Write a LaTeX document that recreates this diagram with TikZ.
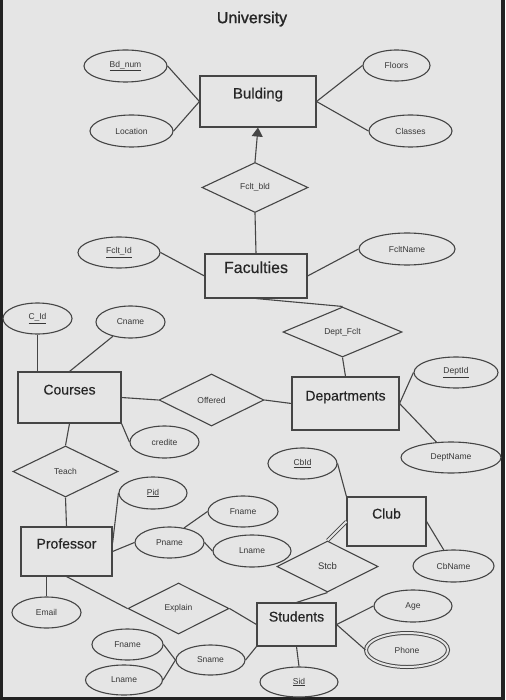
\documentclass[tikz,border=0pt]{standalone}
\usepackage{fontspec}
\setmainfont{Liberation Sans}
\newfontfamily\semifont[FakeBold=0.4]{Liberation Sans}
\newfontfamily\titlefont[FakeBold=1.4]{Liberation Sans}
\usetikzlibrary{shapes, arrows.meta, positioning}
\definecolor{bggray}{HTML}{E5E5E5}
\definecolor{framegray}{HTML}{222222}
\definecolor{linegray}{HTML}{454545}
\definecolor{textgray}{HTML}{383838}

\begin{document}
\begin{tikzpicture}[
    x=1pt, y=-1pt,
    every node/.style={text=textgray},
    dims/.style 2 args={minimum width=#1pt, minimum height=#2pt},
    entity/.style={rectangle, draw=linegray, line width=1.1pt, inner sep=0pt, text height=10pt, text depth=16pt, text=black!85, font=\semifont\fontsize{14}{16}\selectfont},
    attr/.style={ellipse, draw=linegray, line width=1.1pt, inner sep=0pt, font=\fontsize{8.5}{10}\selectfont},
    multi/.style={attr, double=bggray, double distance=2pt, line width=1pt},
    rel/.style={diamond, draw=linegray, line width=1.1pt, inner sep=0pt, font=\fontsize{8.5}{10}\selectfont},
    conn/.style={draw=linegray, line width=1.1pt}
 ]

\useasboundingbox (0,0) rectangle (505,700);
\fill[bggray] (0,0) rectangle (505,700);
\fill[framegray] (0,0) rectangle (3,700);
\fill[framegray] (501,0) rectangle (505,700);
\fill[framegray] (0,697) rectangle (505,700);

\node[text=black!85, font=\titlefont\fontsize{16}{18}\selectfont] (Title) at (252,19) {University};

% Bulding
\node[entity, dims={116}{51}, font=\semifont\fontsize{15}{17}\selectfont] (Bulding) at (258,101.5) {Bulding};
\node[attr, dims={83}{32}] (BdNum) at (125.5,66) {\underline{Bd\_num}};
\draw[conn] (BdNum.east) -- (Bulding.west);
\node[attr, dims={83}{32}] (Location) at (131.5,131) {Location};
\draw[conn] (Location.east) -- (Bulding.west);
\node[attr, dims={67}{31}] (Floors) at (396.5,65.5) {Floors};
\draw[conn] (Floors.west) -- (Bulding.east);
\node[attr, dims={83}{32}] (Classes) at (410.5,131) {Classes};
\draw[conn] (Classes.west) -- (Bulding.east);

\node[rel, dims={106}{50}] (FcltBld) at (255,187.5) {Fclt\_bld};
\draw[conn, -{Triangle[length=9pt, width=11pt]}] (FcltBld.north) -- (Bulding.south);

% Faculties
\node[entity, dims={102}{44}, font=\semifont\fontsize{16}{18}\selectfont] (Faculties) at (256,276) {Faculties};
\draw[conn] (FcltBld.south) -- (Faculties.north);
\node[attr, dims={82}{31}] (FcltId) at (119,252.5) {\underline{Fclt\_Id}};
\draw[conn] (FcltId.east) -- (Faculties.west);
\node[attr, dims={96}{32}] (FcltName) at (407,249) {FcltName};
\draw[conn] (FcltName.west) -- (Faculties.east);

\node[rel, dims={119}{50}] (DeptFclt) at (342.5,332) {Dept\_Fclt};
\draw[conn] (Faculties.south) -- (DeptFclt.north);

% Departments
\node[entity, dims={107}{53}] (Departments) at (345.5,403.5) {Departments};
\draw[conn] (DeptFclt.south) -- (Departments.north);
\node[attr, dims={84}{31}] (DeptId) at (456,372.5) {\underline{DeptId}};
\draw[conn] (Departments.east) -- (DeptId.west);
\node[attr, dims={100}{31}] (DeptName) at (451,457.5) {DeptName};
\draw[conn] (Departments.east) -- (DeptName);

% Courses
\node[entity, dims={103}{51}] (Courses) at (69.5,397.5) {Courses};
\node[attr, dims={69}{31}] (CId) at (37.5,318.5) {\underline{C\_Id}};
\draw[conn] (CId.south) -- (CId.south |- Courses.north);
\node[attr, dims={69}{32}] (Cname) at (130.5,322) {Cname};
\draw[conn] (Courses.north) -- (Cname);
\node[attr, dims={69}{32}] (Credite) at (164.5,442) {credite};
\draw[conn] (Courses.south east) -- (Credite.west);

\node[rel, dims={105}{52}] (Offered) at (211.5,400) {Offered};
\draw[conn] (Courses.east) -- (Offered.west);
\draw[conn] (Offered.east) -- (Departments.west);

\node[rel, dims={105}{51}] (Teach) at (65.5,471.5) {Teach};
\draw[conn] (Courses.south) -- (Teach.north);

% Professor
\node[entity, dims={91}{49}] (Professor) at (66.5,551.5) {Professor};
\draw[conn] (Teach.south) -- (Professor.north);
\node[attr, dims={68}{32}] (Pid) at (153,493) {\underline{Pid}};
\draw[conn] (Pid.west) -- (Professor.10);
\node[attr, dims={69}{31}] (Pname) at (169.5,542.5) {Pname};
\draw[conn] (Professor.east) -- (Pname.west);
\node[attr, dims={70}{31}] (FnameP) at (243,511.5) {Fname};
\draw[conn] (Pname.45) -- (FnameP.west);
\node[attr, dims={78}{32}] (LnameP) at (252,551) {Lname};
\draw[conn] (Pname.east) -- (LnameP.west);
\node[attr, dims={69}{31}] (Email) at (46.5,612.5) {Email};
\draw[conn] (Email.north) -- (Email.north |- Professor.south);

% Club
\node[entity, dims={79}{49}] (Club) at (386.5,521.5) {Club};
\node[attr, dims={69}{31}] (CbId) at (302.5,463.5) {\underline{CbId}};
\draw[conn] (CbId.east) -- (Club.north west);
\node[attr, dims={81}{32}] (CbName) at (453.5,566) {CbName};
\draw[conn] (Club.east) -- (CbName);

\node[rel, dims={101}{51}, font=\fontsize{9.5}{11}\selectfont] (Stcb) at (327.5,566.5) {Stcb};
\draw[conn, double=bggray, double distance=2pt, line width=0.9pt] (Club.west) -- (Stcb.north);

% Students
\node[entity, dims={79}{43}] (Students) at (296.5,624.5) {Students};
\draw[conn] (Stcb.south) -- (Students.north);
\node[rel, dims={101}{51}] (Explain) at (178.5,608.5) {Explain};
\draw[conn] (Professor.south) -- (Explain.west);
\draw[conn] (Explain.east) -- (Students.west);
\node[attr, dims={78}{32}] (Age) at (413,606) {Age};
\draw[conn] (Students.east) -- (Age.west);
\node[multi, dims={82}{34}] (Phone) at (407,650) {Phone};
\draw[conn] (Students.east) -- (Phone.west);
\node[attr, dims={78}{30}] (Sid) at (299,682) {\underline{Sid}};
\draw[conn] (Students.south) -- (Sid.north);
\node[attr, dims={69}{30}] (Sname) at (210.5,660) {Sname};
\draw[conn] (Students.south west) -- (Sname.east);
\node[attr, dims={71}{31}] (FnameS) at (127.5,644.5) {Fname};
\draw[conn] (FnameS.east) -- (Sname.west);
\node[attr, dims={77}{30}] (LnameS) at (124,680) {Lname};
\draw[conn] (LnameS.east) -- (Sname.west);

\end{tikzpicture}
\end{document}
